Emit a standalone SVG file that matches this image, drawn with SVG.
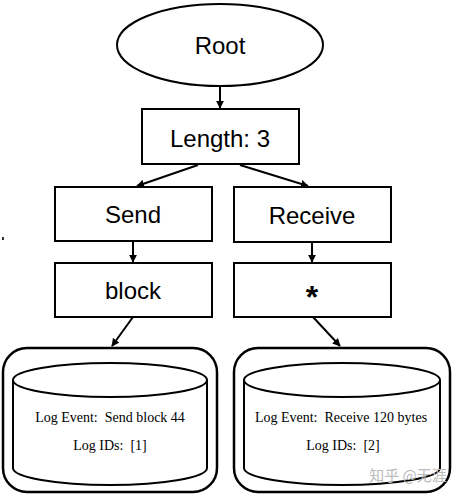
<svg xmlns="http://www.w3.org/2000/svg" width="453" height="496" viewBox="0 0 453 496">
<defs>
<marker id="arr" viewBox="0 0 10 10" refX="9" refY="5" markerWidth="8" markerHeight="8" markerUnits="userSpaceOnUse" orient="auto">
<path d="M0,0 L10,5 L0,10 z" fill="#000"/>
</marker>
</defs>
<style>
.box{fill:#fff;stroke:#000;stroke-width:2}
.lbl{font-family:"Liberation Sans",Arial,sans-serif;font-size:24px;fill:#000;text-anchor:middle}
.con{stroke:#000;stroke-width:2;fill:none;marker-end:url(#arr)}
.outer{fill:#fff;stroke:#000;stroke-width:2.5}
.cyl{fill:#fff;stroke:#000;stroke-width:2}
.log{font-family:"Liberation Serif","Times New Roman",serif;font-size:14px;fill:#000;text-anchor:middle;white-space:pre}
</style>
<rect width="453" height="496" fill="#fff"/>
<g id="root">
<ellipse cx="220" cy="45" rx="103" ry="41" class="box"/>
<text x="220" y="54" class="lbl">Root</text>
</g>
<g id="length">
<rect x="142" y="109" width="157" height="55" class="box"/>
<text x="220" y="147" class="lbl">Length: 3</text>
</g>
<g id="send">
<rect x="55" y="187" width="157" height="54" class="box"/>
<text x="133" y="223" class="lbl">Send</text>
</g>
<g id="receive">
<rect x="234" y="187" width="157" height="55" class="box"/>
<text x="312" y="224" class="lbl">Receive</text>
</g>
<g id="block">
<rect x="55" y="263" width="157" height="54" class="box"/>
<text x="133" y="299" class="lbl">block</text>
</g>
<g id="star">
<rect x="234" y="263" width="157" height="54" class="box"/>
<text x="312" y="308" class="lbl" style="font-size:32px;font-weight:bold">*</text>
</g>
<g id="log1">
<rect x="3" y="348" width="214" height="144" rx="24" ry="24" class="outer"/>
<path d="M13,380 L13,468 A97,17 0 0 0 207,468 L207,380" class="cyl"/>
<ellipse cx="110" cy="380" rx="97" ry="17" class="cyl"/>
<text x="110" y="422" class="log" xml:space="preserve">Log Event:  Send block 44</text>
<text x="110" y="450" class="log" xml:space="preserve">Log IDs:  [1]</text>
</g>
<g id="log2">
<rect x="234" y="348" width="216" height="144" rx="24" ry="24" class="outer"/>
<path d="M244,380 L244,468 A98,17 0 0 0 440,468 L440,380" class="cyl"/>
<ellipse cx="342" cy="380" rx="98" ry="17" class="cyl"/>
<text x="341" y="422" class="log" xml:space="preserve">Log Event:  Receive 120 bytes</text>
<text x="343" y="450" class="log" xml:space="preserve">Log IDs:  [2]</text>
</g>
<g id="connectors">
<line x1="220" y1="86" x2="220" y2="108" class="con"/>
<line x1="198" y1="165" x2="137" y2="186" class="con"/>
<line x1="240" y1="165" x2="308" y2="186" class="con"/>
<line x1="133" y1="241" x2="133" y2="262" class="con"/>
<line x1="312" y1="242" x2="312" y2="262" class="con"/>
<line x1="133" y1="317" x2="112" y2="346" class="con"/>
<line x1="313" y1="317" x2="340" y2="346" class="con"/>
</g>
<text x="408" y="481" style="font-family:'Noto Sans CJK SC',sans-serif;font-size:15px;fill:#bbb;text-anchor:middle">知乎 @无涯</text>
<rect x="2" y="237" width="2" height="3" fill="#333"/>
</svg>
